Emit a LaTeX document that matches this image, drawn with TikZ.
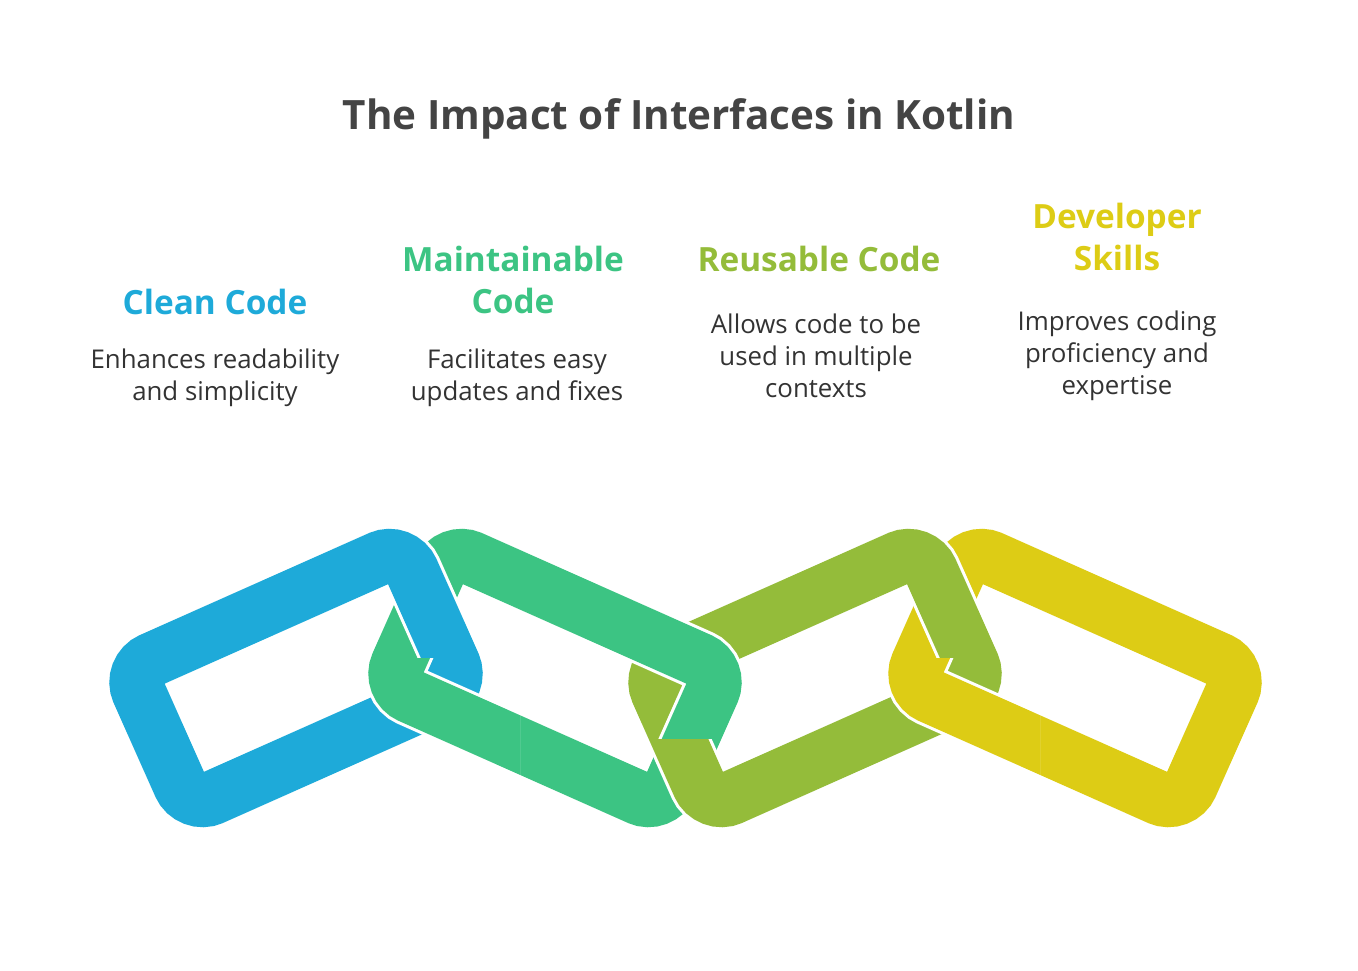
\documentclass[tikz,border=0pt]{standalone}
\usepackage{fontspec}
\setmainfont{Open Sans}
\definecolor{cblue}{HTML}{1EAAD9}
\definecolor{cgreen}{HTML}{3CC483}
\definecolor{colive}{HTML}{94BC3A}
\definecolor{cyellow}{HTML}{DDCC15}
\definecolor{ctitle}{HTML}{444444}
\definecolor{cbody}{HTML}{333333}
\newcommand\chainlink[4]{%
  \draw[white,line width=34.5pt,shift={(#1,#2)},rotate=#3,rounded corners=14pt]
    (-149.5,-75.5) rectangle (149.5,75.5);
  \draw[#4,line width=31pt,shift={(#1,#2)},rotate=#3,rounded corners=14pt]
    (-149.5,-75.5) rectangle (149.5,75.5);}
\tikzset{
  head/.style={font=\bfseries\fontsize{19}{24}\selectfont,align=center},
  body/.style={font=\fontsize{14.7}{18.2}\selectfont,text=cbody,align=center},
}
\begin{document}
\begin{tikzpicture}[x=0.02cm,y=-0.02cm]
\useasboundingbox (0,0) rectangle (1358,970);
\node[font=\bfseries\fontsize{23}{28}\selectfont,text=ctitle] (title) at (679,119) {The Impact of Interfaces in Kotlin};
\node[head,text=cblue] (h1) at (215,302) {Clean Code};
\node[body] (b1) at (215,378) {Enhances readability\\and simplicity};
\node[head,text=cgreen] (h2) at (513,280) {Maintainable\\Code};
\node[body] (b2) at (517,378) {Facilitates easy\\updates and fixes};
\node[head,text=colive] (h3) at (819,259) {Reusable Code};
\node[body] (b3) at (816,356) {Allows code to be\\used in multiple\\contexts};
\node[head,text=cyellow] (h4) at (1117,237) {Developer\\Skills};
\node[body] (b4) at (1117,356) {Improves coding\\proficiency and\\expertise};
% chain
\chainlink{555}{678}{-24}{cgreen}
\chainlink{296}{678}{24}{cblue}
\begin{scope}
\clip (340,658) rectangle (520,830);
\chainlink{555}{678}{-24}{cgreen}
\end{scope}
\chainlink{1075}{678}{-24}{cyellow}
\chainlink{815}{678}{24}{colive}
\begin{scope}
\clip (600,580) rectangle (800,738);
\chainlink{555}{678}{-24}{cgreen}
\end{scope}
\begin{scope}
\clip (860,658) rectangle (1040,830);
\chainlink{1075}{678}{-24}{cyellow}
\end{scope}
\end{tikzpicture}
\end{document}
